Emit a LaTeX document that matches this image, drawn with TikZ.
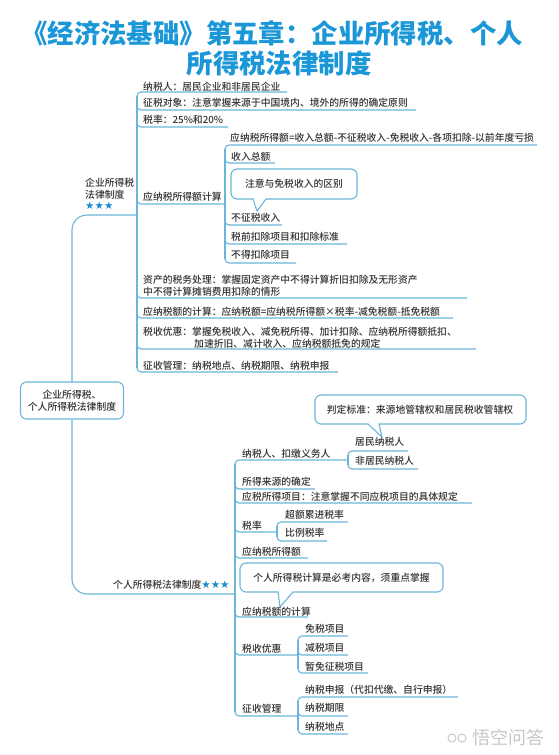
\documentclass[tikz,border=0pt]{standalone}
\usepackage{fontspec}
\newfontfamily\cjk{Noto Sans CJK SC Medium}
\newfontfamily\cjkt{Noto Sans CJK SC}
\newfontfamily\symf{DejaVu Sans}
\definecolor{lnc}{HTML}{6CB6D9}
\definecolor{ttc}{HTML}{1B97D8}
\definecolor{txc}{HTML}{333333}
\definecolor{stc}{HTML}{1E88D0}
\tikzset{
  lnk/.style={draw=lnc, line width=1.1pt},
  brm/.style={lnk, rounded corners=4pt},
  t/.style={anchor=base west, inner sep=0pt, font=\cjk\fontsize{9.8}{12}\selectfont, text=txc},
  ttl/.style={inner sep=0pt, font=\cjkt\bfseries\fontsize{26.4}{30}\selectfont, text=ttc},
  rootbox/.style={draw=lnc, line width=1.1pt, rounded corners=6pt, fill=white, minimum width=103pt, minimum height=37pt, align=center, inner sep=0pt, font=\cjk\fontsize{9.8}{11.5}\selectfont, text=txc},
  callout/.style={draw=lnc, line width=1.1pt, fill=white},
  ct/.style={inner sep=0pt, font=\cjk\fontsize{9.8}{12}\selectfont, text=txc},
  stars/.style={anchor=base west, inner sep=0pt, font=\symf\fontsize{10.5}{12}\selectfont, text=stc}
}
\begin{document}
\begin{tikzpicture}[x=1pt,y=-1pt]
\useasboundingbox[fill=white] (0,0) rectangle (558,755);
% title
\node[ttl] (t1) at (272,33) {《经济法基础》第五章：企业所得税、个人};
\node[ttl] (t2) at (279,63) {所得税法律制度};
% root
\node[rootbox] (root) at (72,400.5) {企业所得税、\\个人所得税法律制度};
\coordinate (ej) at (137,215);
\coordinate (pj) at (235,594);
\draw[lnk, rounded corners=15pt] (root.north) -- (root.north |- ej) -- (ej);
\draw[lnk, rounded corners=15pt] (root.south) -- (root.south |- pj) -- (pj);
% enterprise label
\node[t] (el1) at (85,186.6) {企业所得税};
\node[t] (el2) at (85,198.6) {法律制度};
\node[stars] (el3) at (85,209.8) {★★★};
% enterprise branch
\draw[lnk] (137,96) -- (137,368);
\node[t] (e1) at (143,90.6) {纳税人：居民企业和非居民企业};
\draw[brm] (137,98) -- (137,92) -- (287,92);
\node[t] (e2) at (143,106.6) {征税对象：注意掌握来源于中国境内、境外的所得的确定原则};
\draw[brm] (137,104) -- (137,110) -- (416,110);
\node[t] (e3) at (143,123.6) {税率：25\%和20\%};
\draw[brm] (137,121) -- (137,127) -- (228,127);
\node[t] (e4) at (143,200.6) {应纳税所得额计算};
\draw[brm] (137,198) -- (137,204) -- (225,204);
% sub of e4
\draw[lnk] (225,149) -- (225,259);
\node[t] (e41) at (230,141.6) {应纳税所得额=收入总额-不征税收入-免税收入-各项扣除-以前年度亏损};
\draw[brm] (225,151) -- (225,145) -- (537,145);
\node[t] (e42) at (231,160.6) {收入总额};
\draw[brm] (225,157) -- (225,163) -- (275,163);
\draw[callout] (294,169) [rounded corners=6pt] -- (357,169) -- (357,199) [sharp corners] -- (266,199) -- (257,211) -- (253,199) [rounded corners=6pt] -- (231,199) -- (231,169) -- cycle;
\node[ct] (c1) at (294,184) {注意与免税收入的区别};
\node[t] (e43) at (231,221.6) {不征税收入};
\draw[brm] (225,219) -- (225,225) -- (282,225);
\node[t] (e44) at (231,240.6) {税前扣除项目和扣除标准};
\draw[brm] (225,238) -- (225,244) -- (347,244);
\node[t] (e45) at (231,258.6) {不得扣除项目};
\draw[brm] (225,257) -- (225,263) -- (296,263);
% rest of enterprise
\node[t] (e5) at (143,283.6) {资产的税务处理：掌握固定资产中不得计算折旧扣除及无形资产};
\node[t] (e5b) at (143,295.6) {中不得计算摊销费用扣除的情形};
\draw[brm] (137,292) -- (137,298) -- (467,298);
\node[t] (e6) at (143,315.6) {应纳税额的计算：应纳税额=应纳税所得额×税率-减免税额-抵免税额};
\draw[brm] (137,312) -- (137,318) -- (453,318);
\node[t] (e7) at (143,335.6) {税收优惠：掌握免税收入、减免税所得、加计扣除、应纳税所得额抵扣、};
\node[t] (e7b) at (194,347.6) {加速折旧、减计收入、应纳税额抵免的规定};
\draw[brm] (137,343) -- (137,349) -- (476,349);
\node[t] (e8) at (143,369.6) {征收管理：纳税地点、纳税期限、纳税申报};
\draw[brm] (137,366) -- (137,372) -- (338,372);
% personal label
\node[t] (pl) at (113,588.6) {个人所得税法律制度{\symf\fontsize{10.5}{12}\selectfont\color{stc}★★★}};
% personal branch
\draw[lnk] (235,464) -- (235,712);
\node[t] (p1) at (242,457.6) {纳税人、扣缴义务人};
\draw[brm] (235,466) -- (235,460) -- (348,460);
\draw[lnk] (348,455) -- (348,465);
\node[t] (p11) at (355,445.6) {居民纳税人};
\draw[brm] (348,457) -- (348,451) -- (408,451);
\node[t] (p12) at (355,464.6) {非居民纳税人};
\draw[brm] (348,463) -- (348,469) -- (418,469);
\draw[callout] (420,395) [rounded corners=6pt] -- (526,395) -- (526,424) [sharp corners] -- (379,424) -- (382,437) -- (368,424) [rounded corners=6pt] -- (315,424) -- (315,395) -- cycle;
\node[ct] (c2) at (420,409.5) {判定标准：来源地管辖权和居民税收管辖权};
\node[t] (p2) at (242,485.6) {所得来源的确定};
\draw[brm] (235,483) -- (235,489) -- (315,489);
\node[t] (p3) at (242,500.6) {应税所得项目：注意掌握不同应税项目的具体规定};
\draw[brm] (235,497) -- (235,503) -- (472,503);
\node[t] (p4) at (242,529.6) {税率};
\draw[brm] (235,526) -- (235,532) -- (277,532);
\draw[lnk] (277,526) -- (277,537);
\node[t] (p41) at (285,518.6) {超额累进税率};
\draw[brm] (277,528) -- (277,522) -- (348,522);
\node[t] (p42) at (285,536.6) {比例税率};
\draw[brm] (277,535) -- (277,541) -- (327,541);
\node[t] (p5) at (242,555.6) {应纳税所得额};
\draw[brm] (235,552) -- (235,558) -- (308,558);
\draw[callout] (340,563) [rounded corners=6pt] -- (443,563) -- (443,592) [sharp corners] -- (293,592) -- (280,607) -- (278,592) [rounded corners=6pt] -- (240,592) -- (240,563) -- cycle;
\node[ct] (c3) at (341.5,577.5) {个人所得税计算是必考内容，须重点掌握};
\node[t] (p6) at (242,615.6) {应纳税额的计算};
\draw[brm] (235,611) -- (235,617) -- (308,617);
\node[t] (p7) at (242,652.6) {税收优惠};
\draw[brm] (235,649) -- (235,655) -- (298,655);
\draw[lnk] (298,640) -- (298,669);
\node[t] (p71) at (305,632.6) {免税项目};
\draw[brm] (298,642) -- (298,636) -- (348,636);
\node[t] (p72) at (305,651.6) {减税项目};
\draw[brm] (298,649) -- (298,655) -- (348,655);
\node[t] (p73) at (305,670.6) {暂免征税项目};
\draw[brm] (298,667) -- (298,673) -- (368,673);
\node[t] (p8) at (242,712.6) {征收管理};
\draw[brm] (235,710) -- (235,716) -- (298,716);
\draw[lnk] (298,701) -- (298,730);
\node[t] (p81) at (305,693.6) {纳税申报（代扣代缴、自行申报）};
\draw[brm] (298,703) -- (298,697) -- (458,697);
\node[t] (p82) at (305,711.6) {纳税期限};
\draw[brm] (298,710) -- (298,716) -- (348,716);
\node[t] (p83) at (305,730.6) {纳税地点};
\draw[brm] (298,728) -- (298,734) -- (348,734);
% watermark
\draw[black!22, line width=1pt] (452,738) circle (4pt) (462,738) circle (4pt);
\node[inner sep=0pt, font=\cjkt\fontsize{18}{18}\selectfont, text=black!22] (wm) at (508,738) {悟空问答};
\end{tikzpicture}
\end{document}
